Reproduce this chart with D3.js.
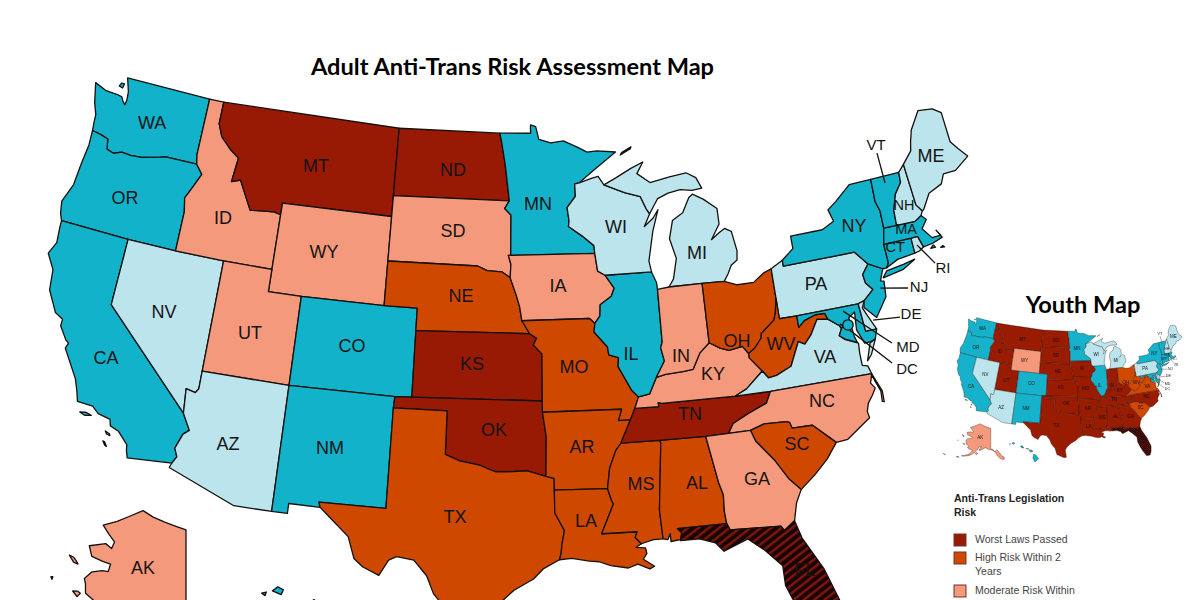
<!DOCTYPE html>
<html><head><meta charset="utf-8">
<script src="https://cdn.jsdelivr.net/npm/d3@7"></script>
<style>html,body{margin:0;background:#fff}svg{display:block}</style></head>
<body><div id="chart"></div>
<script>
// state outlines: [west longitude, latitude, ...] per ring
const WA=[[124.73,48.38,123.9,48.17,123.1,48.15,122.78,48.1,122.6,47.9,122.45,47.8,122.4,48,122.45,48.4,122.76,49,117.03,49,117.04,46.42,116.92,45.995,118.98,46,119.3,45.93,120.5,45.7,121.2,45.67,121.8,45.7,122.3,45.55,122.76,45.65,122.9,46.1,123.4,46.2,124,46.27,124.07,46.7,124.1,47,124.4,47.5],[123.15,48.55,122.9,48.5,122.85,48.7,123.05,48.7]];
const OR=[[124,46.27,123.4,46.2,122.9,46.1,122.76,45.65,122.3,45.55,121.8,45.7,121.2,45.67,120.5,45.7,119.3,45.93,118.98,46,116.92,45.995,116.46,45.6,116.85,44.95,117.2,44.4,117.03,43.8,117.03,42,120,42,124.21,42,124.4,42.3,124.55,42.84,124.15,43.7,124.07,44.7,123.95,45.6]];
const CA=[[124.21,42,120,42,120,39,114.63,35,114.13,34.3,114.43,34.08,114.72,33.4,114.52,33.03,114.72,32.72,117.12,32.53,117.25,32.85,117.3,33.1,117.9,33.6,118.4,33.75,118.5,34.03,119.2,34.15,119.6,34.42,120.47,34.45,120.65,34.9,120.9,35.4,121.9,36.6,121.8,36.85,122,36.96,122.5,37.5,122.5,37.8,123,38,123.7,38.9,123.85,39.8,124.4,40.44,124.1,41,124.2,41.75],[120.2,34.02,119.9,34.08,119.55,34,119.9,33.93],[118.6,33.48,118.35,33.4,118.3,33.32,118.5,33.36],[118.6,33.02,118.45,32.85,118.35,32.82,118.5,33]];
const NV=[[120,42,117.03,42,114.04,42,114.05,37,114.05,36.2,114.2,36,114.75,36.1,114.63,35,120,39]];
const ID=[[117.03,49,116.05,49,116.05,48,115.7,47.45,114.95,46.95,114.35,46.65,114.5,45.55,113.95,45.7,113.45,45.05,113,44.45,111.5,44.55,111.05,44.48,111.05,42,114.04,42,117.03,42,117.03,43.8,117.2,44.4,116.85,44.95,116.46,45.6,116.92,45.995,117.04,46.42]];
const MT=[[116.05,49,104.05,49,104.05,45.94,104.05,45,111.05,45,111.05,44.48,111.5,44.55,113,44.45,113.45,45.05,113.95,45.7,114.5,45.55,114.35,46.65,114.95,46.95,115.7,47.45,116.05,48]];
const WY=[[111.05,45,104.05,45,104.05,43,104.05,41,109.05,41,111.05,41,111.05,42,111.05,44.48]];
const UT=[[114.04,42,111.05,42,111.05,41,109.05,41,109.05,37,114.05,37]];
const CO=[[109.05,41,104.05,41,102.05,41,102.05,40,102.04,37,103,37,109.05,37]];
const AZ=[[114.63,35,114.75,36.1,114.2,36,114.05,36.2,114.05,37,109.05,37,109.05,31.33,111.07,31.33,114.81,32.5,114.72,32.72,114.52,33.03,114.72,33.4,114.43,34.08,114.13,34.3]];
const NM=[[109.05,37,103,37,103.04,36.5,103.04,32,106.62,32,106.53,31.78,108.21,31.78,108.21,31.33,109.05,31.33]];
const ND=[[104.05,49,97.23,49,97.1,48.6,96.85,47.6,96.56,45.94,104.05,45.94]];
const SD=[[104.05,45.94,96.56,45.94,96.85,45.6,96.45,45.3,96.45,43.5,96.6,43.5,96.44,43.1,96.48,42.5,97,42.76,97.9,42.8,98.5,43,104.05,43,104.05,45]];
const NE=[[104.05,43,98.5,43,97.9,42.8,97,42.76,96.48,42.5,96.1,41.7,95.9,41.2,95.77,40.58,95.31,40,102.05,40,102.05,41,104.05,41]];
const KS=[[102.05,40,95.31,40,94.9,39.8,95.1,39.5,94.6,39.1,94.62,37,103,37,102.04,37]];
const OK=[[103,37,94.62,37,94.62,36.5,94.43,35.4,94.48,33.64,95.5,33.9,96.6,33.85,97.2,33.85,97.7,34,98.1,34.13,99.2,34.3,100,34.56,100,36.5,103.04,36.5]];
const TX=[[103.04,36.5,100,36.5,100,34.56,99.2,34.3,98.1,34.13,97.7,34,97.2,33.85,96.6,33.85,95.5,33.9,94.48,33.64,94.04,33.55,94.04,33.02,94.04,32,93.55,31.2,93.7,30.6,93.75,30.2,93.85,29.9,94.7,29.5,95.2,29.05,96.2,28.55,97,27.9,97.4,27.3,97.25,26.5,97.15,25.96,97.6,25.85,98.3,26.1,99.1,26.4,99.5,27.5,100.3,28.3,100.7,29.1,101.4,29.77,102.3,29.88,102.7,29.7,103.15,28.98,104,29.3,104.5,29.65,104.9,30.6,106,31.4,106.53,31.78,106.62,32,103.04,32]];
const MN=[[97.23,49,95.15,49,95.15,49.38,94.8,49.3,94.6,48.72,93.8,48.55,92.95,48.62,92,48.3,91.4,48.07,90.75,48.1,89.5,48,90.9,47.3,92,46.7,92.3,46.66,92.29,46.1,92.85,45.6,92.75,45,92.8,44.75,91.95,44.3,91.25,43.85,91.22,43.5,96.45,43.5,96.45,45.3,96.85,45.6,96.56,45.94,96.85,47.6,97.1,48.6]];
const IA=[[96.6,43.5,96.45,43.5,91.22,43.5,91.1,42.7,90.65,42.5,90.15,41.9,90.35,41.55,91.05,41.2,91.1,40.7,91.42,40.38,91.73,40.61,95.77,40.58,95.9,41.2,96.1,41.7,96.48,42.5,96.44,43.1]];
const MO=[[95.77,40.58,91.73,40.61,91.42,40.38,91.5,40,90.75,39.3,90.7,38.95,90.15,38.8,90.2,38.4,89.5,37.3,89.15,37,89.4,36.5,89.7,36,90.37,36,90.15,36.5,94.62,36.5,94.62,37,94.6,39.1,95.1,39.5,94.9,39.8,95.31,40]];
const AR=[[94.62,36.5,90.15,36.5,90.37,36,89.7,36,90.3,35,90.1,35.1,90.6,34.7,91,33.9,91.17,33,94.04,33.02,94.04,33.55,94.48,33.64,94.43,35.4]];
const LA=[[94.04,33.02,91.17,33,91,32.5,90.9,32.3,91.6,31,89.73,31,89.85,30.75,89.55,30.45,89.85,30.3,89.35,30.25,89.3,30,89.5,29.75,88.95,29.4,89.2,29.3,89.8,29.55,90.3,29.4,91.2,29.55,91.8,29.75,92.3,29.8,93.2,29.95,93.85,29.9,93.75,30.2,93.7,30.6,93.55,31.2,94.04,32]];
const MS=[[90.3,35,88.2,35,88.1,34.9,88.47,31.9,88.4,30.6,88.9,30.6,89.55,30.45,89.85,30.75,89.73,31,91.6,31,90.9,32.3,91,32.5,91.17,33,91,33.9,90.6,34.7]];
const AL=[[88.2,35,85.6,34.98,85.18,32.87,85,32.3,85.05,31.55,85,31,87.6,31,87.4,30.8,87.5,30.5,88,30.45,88,30.8,88.15,30.55,88.4,30.6,88.47,31.9,88.1,34.9]];
const TN=[[90.3,35,89.7,36,89.4,36.5,88.05,36.5,88.07,36.68,87.85,36.63,83.68,36.6,81.68,36.59,82,36.1,83.1,35.75,84,35.4,84.32,34.99,85.6,34.98,88.2,35]];
const KY=[[89.4,36.5,89.15,37,88.5,37.1,88.05,37.8,87.5,37.9,86.5,37.95,85.9,38,85.4,38.7,84.8,39.1,84.2,38.8,83.7,38.65,82.9,38.75,82.6,38.4,82.6,38.2,81.97,37.54,83,36.85,83.68,36.6,87.85,36.63,88.07,36.68,88.05,36.5]];
const IL=[[90.65,42.5,87.8,42.5,87.55,42,87.53,41.7,87.53,39.35,87.65,39.1,87.5,38.5,88.05,37.8,88.5,37.1,89.15,37,89.5,37.3,90.2,38.4,90.15,38.8,90.7,38.95,90.75,39.3,91.5,40,91.42,40.38,91.1,40.7,91.05,41.2,90.35,41.55,90.15,41.9]];
const WI=[[92.3,46.66,92,46.7,91.2,46.87,90.75,46.95,90.4,46.55,89.1,46.14,88.1,45.9,87.8,45.35,87.6,45.1,88,44.55,87.4,44.9,87.05,45.25,87.5,44.3,87.9,43,87.8,42.5,90.65,42.5,91.1,42.7,91.22,43.5,91.25,43.85,91.95,44.3,92.8,44.75,92.75,45,92.85,45.6,92.29,46.1]];
const MI=[[86.82,41.76,84.8,41.76,83.45,41.73,83.15,42.05,82.9,42.4,82.5,42.6,82.42,43,82.6,43.9,83,44.07,83.4,43.9,83.9,43.65,83.3,44.3,83.3,45,84.1,45.5,84.75,45.78,85,45.65,85.5,45,86.2,44.7,86.5,43.9,86.2,43,86.5,42.1],[90.4,46.55,89.1,46.14,88.1,45.9,87.8,45.35,87.6,45.1,87,45.75,86.3,45.95,85.5,46.05,84.75,45.95,84.1,46,84.4,46.5,85,46.77,86.1,46.67,87.4,46.5,88.2,46.95,87.75,47.45,88.6,47.2,89.6,46.83],[89.2,47.85,88.5,48.1,88.45,48.18,89.1,47.95]];
const IN=[[87.53,41.7,86.82,41.76,84.8,41.76,84.8,39.1,85.4,38.7,85.9,38,86.5,37.95,87.5,37.9,88.05,37.8,87.5,38.5,87.65,39.1,87.53,39.35]];
const OH=[[84.8,41.76,83.45,41.73,82.7,41.5,81.7,41.5,81,41.85,80.52,41.98,80.52,40.64,80.7,40,80.85,39.7,81.7,39.2,81.75,39,82.2,38.6,82.6,38.4,82.9,38.75,83.7,38.65,84.2,38.8,84.8,39.1]];
const PA=[[80.52,41.98,79.76,42.27,79.76,42,75.35,42,74.7,41.36,75.15,40.95,75.1,40.55,74.75,40.2,75.4,39.8,75.79,39.72,79.48,39.72,80.52,39.72,80.52,40.64]];
const WV=[[80.52,40.64,80.52,39.72,79.48,39.72,79.48,39.2,79.1,39.45,78.4,39.62,77.83,39.6,77.72,39.32,78.35,39.4,78.87,38.76,79.3,38.42,79.65,38.58,80.3,37.55,81.2,37.25,81.68,37.2,81.97,37.54,82.6,38.2,82.6,38.4,82.2,38.6,81.75,39,81.7,39.2,80.85,39.7,80.7,40]];
const VA=[[83.68,36.6,81.68,36.59,75.87,36.55,76,36.93,76.3,37,76.3,37.55,76.25,38,77,38.3,77.25,38.5,77.04,38.8,77.12,38.93,77.72,39.32,78.35,39.4,78.87,38.76,79.3,38.42,79.65,38.58,80.3,37.55,81.2,37.25,81.68,37.2,81.97,37.54,83,36.85],[75.95,37.15,75.6,37.9,75.25,38.03,75.65,37.4]];
const NC=[[84.32,34.99,84,35.4,83.1,35.75,82,36.1,81.68,36.59,75.87,36.55,76.05,36.15,75.85,35.9,76.1,35.6,76.4,35.3,76.55,34.95,76.5,34.65,77.9,33.9,78.55,33.86,79.67,34.8,80.8,34.82,80.9,35.1,81.05,35.15,82.3,35.2,83.1,35],[75.85,36.5,75.5,35.7,75.52,35.22,75.62,35.25,75.58,35.7,75.9,36.5]];
const SC=[[83.1,35,82.3,35.2,81.05,35.15,80.9,35.1,80.8,34.82,79.67,34.8,78.55,33.86,79.2,33.2,80,32.6,80.85,32.05,81.4,32.6,82,33.5,82.9,34.5]];
const GA=[[85.6,34.98,84.32,34.99,83.1,35,82.9,34.5,82,33.5,81.4,32.6,80.85,32.05,81.2,31.5,81.45,30.72,82.05,30.36,82.2,30.57,84.86,30.7,85,31,85.05,31.55,85,32.3,85.18,32.87]];
const FL=[[87.6,31,85,31,84.86,30.7,82.2,30.57,82.05,30.36,81.45,30.72,81.2,29.9,80.35,28.4,79.8,26.8,80,25.75,80.3,25.2,81,25.13,81.6,26.1,82,26.9,82.4,27.9,82.4,28.8,83.2,29.6,84,30.2,85.3,29.78,85.7,30.2,86.5,30.45,87.5,30.45,87.4,30.8]];
const MD=[[79.48,39.72,75.79,39.72,75.7,38.46,75.05,38.45,75.25,38.03,75.6,37.95,75.9,37.95,76.2,38.6,76.1,39.4,76.5,39.2,76.4,38.3,76.3,38.05,76.95,38.3,77.25,38.5,77.04,38.8,77.12,38.93,77.72,39.32,77.83,39.6,78.4,39.62,79.1,39.45,79.48,39.2]];
const DE=[[75.79,39.72,75.4,39.8,75.6,39.5,75.4,39.1,75.05,38.45,75.7,38.46]];
const NJ=[[74.7,41.36,73.9,41,74.2,40.5,74,40.45,74.1,39.75,74.9,38.95,75.5,39.5,75.4,39.8,74.75,40.2,75.1,40.55,75.15,40.95]];
const NY=[[79.76,42.27,79.76,42,75.35,42,74.7,41.36,73.9,41,73.65,41,73.49,41.2,73.5,42.05,73.27,42.75,73.24,43.55,73.4,44,73.34,45.01,74.75,45,75.8,44.4,76.4,44.1,76.2,43.55,77,43.28,79,43.27,79,42.7],[74,40.6,72.75,40.75,71.9,41.07,72.6,40.98,73.7,40.87]];
const CT=[[73.65,41,73.49,41.2,73.5,42.05,71.8,42.02,71.8,41.33,72.9,41.25]];
const RI=[[71.8,42.02,71.38,42.02,71.2,41.5,71.5,41.37,71.8,41.33]];
const MA=[[73.5,42.05,73.27,42.75,72.46,42.73,71.3,42.7,70.85,42.88,70.6,42.65,71,42.3,70.55,41.8,70,41.8,70.2,42.07,69.95,41.7,70.6,41.55,71.2,41.5,71.38,42.02,71.8,42.02],[70.8,41.35,70.5,41.35,70.6,41.47],[70.2,41.28,69.97,41.25,70.05,41.33]];
const VT=[[73.34,45.01,71.5,45.01,71.55,44.55,72.05,44.1,72.4,43.4,72.46,42.73,73.27,42.75,73.24,43.55,73.4,44]];
const NH=[[71.5,45.01,71.08,45.3,70.98,43.4,70.7,43.07,70.85,42.88,71.3,42.7,72.46,42.73,72.4,43.4,72.05,44.1,71.55,44.55]];
const ME=[[71.08,45.3,70.4,45.8,70.25,46.2,70,46.7,69.23,47.46,68.3,47.35,67.8,47.07,67.8,45.7,67.45,45.3,67,44.85,68,44.4,68.8,44.4,69.1,44,70,43.75,70.6,43.1,70.7,43.07,70.98,43.4]];
const DC=[[77.12,38.93,77.04,38.99,76.91,38.89,77.04,38.8]];
const AK=[[141,69.65,141,60.3,139,60,137.5,58.9,135.5,59.7,133.5,58.4,131.5,56.5,130,56,130,55,131.5,55,133.5,55.7,135.5,57,136.5,58.2,138,59,140,59.7,143,60,146,60.7,148,60,150,59.3,151.7,59.2,150,61,152,60.8,153,59.5,154.5,58.2,156.5,57,158.5,56,161,55.3,163.3,54.8,164.9,54.6,163,55.2,160.5,56,158.7,57,157.3,58.5,158.5,58.7,160.5,58.7,162,59,162,60,164.5,60.5,165.3,61.5,166,62,164.8,63,162.5,63.5,161,63.6,161,64.5,163,64.5,166.3,64.6,168,65.6,164,66.5,162,66.2,161.8,67,164,67.6,166.6,68.35,163,69.3,160,70.2,155.8,71.3,152,70.8,148,70.4,144,70],[171.7,63.7,170,63.2,168.8,63.2,169.5,63.45,170.5,63.7],[167.4,60.2,166,59.8,165.6,60.3,166.4,60.4],[154.5,57.4,153.2,57,152.3,57.6,153.2,58,154.2,57.7],[173.3,60.6,172.8,60.4,172.9,60.7],[168,53.3,166,53.6,167,53.9,168.3,53.5],[178,51.8,176,51.9,176.5,52,178,52]];
const HI=[[160.25,21.95,160.1,21.85,160.05,22],[159.78,22.05,159.4,21.9,159.3,22.1,159.55,22.22],[158.28,21.55,157.95,21.3,157.65,21.3,157.95,21.7],[157.3,21.2,156.7,21.08,156.9,21.17],[156.7,20.95,156.5,20.6,156,20.7,156.3,20.95],[155.9,20.25,156.05,19.6,155.7,18.95,155,19.5,155.55,20.1]];

const stateCodes=["WA","OR","CA","NV","ID","MT","WY","UT","CO","AZ","NM","ND","SD","NE","KS","OK","TX","MN","IA","MO","AR","LA","MS","AL","TN","KY","IL","WI","MI","IN","OH","PA","WV","VA","NC","SC","GA","FL","MD","DE","NJ","NY","CT","RI","MA","VT","NH","ME","DC","AK","HI"];
const outlines=[WA,OR,CA,NV,ID,MT,WY,UT,CO,AZ,NM,ND,SD,NE,KS,OK,TX,MN,IA,MO,AR,LA,MS,AL,TN,KY,IL,WI,MI,IN,OH,PA,WV,VA,NC,SC,GA,FL,MD,DE,NJ,NY,CT,RI,MA,VT,NH,ME,DC,AK,HI];
const adultRisk=["safe","safe","safe","low","moderate","worst","moderate","moderate","safe","low","safe","worst","moderate","high","worst","worst","high","safe","moderate","high","high","high","high","high","worst","moderate","safe","low","low","moderate","high","low","high","low","moderate","high","moderate","hatched","safe","low","safe","safe","safe","low","safe","safe","low","low","safe","moderate","safe"];
const youthRisk=["safe","safe","safe","low","worst","worst","moderate","worst","safe","low","safe","worst","worst","worst","worst","worst","worst","safe","worst","worst","worst","worst","worst","worst","worst","worst","safe","low","low","worst","high","low","high","high","worst","high","worst","hatched","safe","low","safe","safe","safe","low","safe","safe","low","low","safe","moderate","safe"];
const riskColors={safe:"#12b2cb",low:"#bce4ec",moderate:"#f4997b",high:"#cf4800",worst:"#991a04",hatched:"url(#hatch)"};

// state label anchors, lon (west) / lat
const labelCodes=["WA","OR","CA","NV","ID","MT","WY","UT","CO","AZ","NM","ND","SD","NE","KS","OK","TX","MN","IA","MO","AR","LA","MS","AL","TN","KY","IL","WI","MI","IN","OH","PA","WV","VA","NC","SC","GA","FL","ME","NY","NH","MA","CT","VT","RI","NJ","DE","MD","DC"];
const labelLon=[120.39,120.83,119.55,116.91,114.59,109.28,108.04,111.73,105.72,111.92,106.36,100.28,100.11,99.45,98.67,97.34,99.35,94.71,93.56,92.75,92.46,92.40,89.35,86.33,86.33,84.78,89.40,89.79,84.89,86.51,83.17,78.01,80.66,78.29,78.90,80.67,83.10,81.31,69.22,75.01,71.70,71.95,72.87,72.47,70.40,72.07,72.91,73.53,73.87];
const labelLat=[47.33,43.76,36.68,39.27,43.92,46.92,43.10,39.05,39.08,34.05,34.50,47.27,44.53,41.64,38.67,35.75,31.79,45.84,42.15,38.48,34.91,31.60,33.16,32.99,36.08,37.74,38.93,44.63,43.14,38.65,39.02,40.96,38.60,37.69,35.83,34.13,32.81,28.46,45.37,43.19,43.53,42.47,41.81,46.45,40.37,39.82,38.75,37.35,36.41];
const smallLabels=["NH","MA","CT"];
const akLabel=[152.5,65.0];
// leader lines: [west lon, lat, west lon, lat]
const leaders=[[72.54,46.09,72.51,44.70],[70.78,40.67,71.55,41.66],[72.71,39.90,74.32,40.19],[73.57,38.73,75.14,38.87],[74.37,37.69,76.75,39.54],[74.62,36.82,76.59,38.65]];
const dcCircle=[76.63,38.89];

const legendTitle=["Anti-Trans Legislation","Risk"];
const legendNames=["worst","high","moderate"];
const legendLines=[["Worst Laws Passed"],["High Risk Within 2","Years"],["Moderate Risk Within"]];

const W=1200,H=600;
const svg=d3.select("#chart").append("svg").attr("width",W).attr("height",H);
const defs=svg.append("defs");
const pat=defs.append("pattern").attr("id","hatch").attr("patternUnits","userSpaceOnUse").attr("width",6.4).attr("height",6.4).attr("patternTransform","rotate(-38)");
pat.append("rect").attr("width",6.4).attr("height",6.4).attr("fill","#1a0403");
pat.append("rect").attr("width",6.4).attr("height",2.4).attr("fill","#7f170c");
defs.append("filter").attr("id","soft").append("feGaussianBlur").attr("stdDeviation",1.1);

const mainProj=d3.geoConicEqualArea().parallels([29.5,45.5]).rotate([96,0]).center([0,38.7]).scale(1275).translate([518,363]);
const akProj=d3.geoConicEqualArea().parallels([55,65]).rotate([141,0]).center([0,65]).scale(510).translate([186,571]);
const hiProj=d3.geoConicEqualArea().parallels([8,18]).rotate([157,0]).center([0,20]).scale(1400).translate([336,641]);
const projFor=c=>c==="AK"?akProj:c==="HI"?hiProj:mainProj;

function feature(rings){
  const polys=rings.map(r=>{
    let ring=d3.range(0,r.length,2).map(i=>[-r[i],r[i+1]]);
    ring.push(ring[0]);
    if(d3.geoArea({type:"Polygon",coordinates:[ring]})>2*Math.PI) ring=ring.reverse();
    return [ring];
  });
  return {type:"MultiPolygon",coordinates:polys};
}
function label(g,p,t,size){
  g.append("text").attr("x",p[0]).attr("y",p[1]+size*0.36).attr("text-anchor","middle")
   .attr("font-family","Liberation Sans").attr("font-size",size).attr("fill","#141414").text(t);
}
function drawMap(g,risk,sw){
  stateCodes.forEach((c,i)=>{
    g.append("path").attr("d",d3.geoPath(projFor(c))(feature(outlines[i])))
      .attr("fill",riskColors[risk[i]]).attr("stroke","#14100e").attr("stroke-width",sw).attr("stroke-linejoin","round");
  });
  const dc=mainProj([-dcCircle[0],dcCircle[1]]);
  g.append("circle").attr("cx",dc[0]).attr("cy",dc[1]).attr("r",5.2).attr("fill",riskColors[risk[stateCodes.indexOf("DC")]]).attr("stroke","#14100e").attr("stroke-width",sw);
  leaders.forEach(l=>{
    const a=mainProj([-l[0],l[1]]),b=mainProj([-l[2],l[3]]);
    g.append("line").attr("x1",a[0]).attr("y1",a[1]).attr("x2",b[0]).attr("y2",b[1]).attr("stroke","#14100e").attr("stroke-width",sw);
  });
  labelCodes.forEach((c,i)=>{
    label(g,mainProj([-labelLon[i],labelLat[i]]),c,smallLabels.includes(c)?14.5:c==="VT"||c==="RI"||c==="NJ"||c==="DE"||c==="MD"||c==="DC"?15:18);
  });
  label(g,akProj([-akLabel[0],akLabel[1]]),"AK",18);
}
drawMap(svg.append("g"),adultRisk,1.3);
drawMap(svg.append("g").attr("transform","translate(945.2,298.6) scale(0.245)").attr("filter","url(#soft)"),youthRisk,1.3);

svg.append("text").attr("x",512.5).attr("y",75).attr("text-anchor","middle").attr("font-family","Lato").attr("font-weight",700).attr("font-size",23.6).attr("fill","#000").text("Adult Anti-Trans Risk Assessment Map");
svg.append("text").attr("x",1083).attr("y",313).attr("text-anchor","middle").attr("font-family","Lato").attr("font-weight",700).attr("font-size",23.6).attr("fill","#000").text("Youth Map");
const lt=svg.append("g").attr("font-family","Liberation Sans").attr("fill","#222");
const titleY=d3.scaleLinear().domain([0,1]).range([502,516]);
legendTitle.forEach((t,i)=>lt.append("text").attr("x",954).attr("y",titleY(i)).attr("font-weight",700).attr("font-size",10.5).text(t));
const swY=d3.scaleOrdinal().domain(legendNames).range([534,552,585]);
legendNames.forEach((n,i)=>{
  lt.append("rect").attr("x",954).attr("y",swY(n)).attr("width",12).attr("height",12).attr("fill",riskColors[n]).attr("stroke","#6b3a2c");
  legendLines[i].forEach((s,j)=>lt.append("text").attr("x",975).attr("y",swY(n)+9+j*14).attr("font-size",10.5).attr("fill","#444").text(s));
});
</script></body></html>
